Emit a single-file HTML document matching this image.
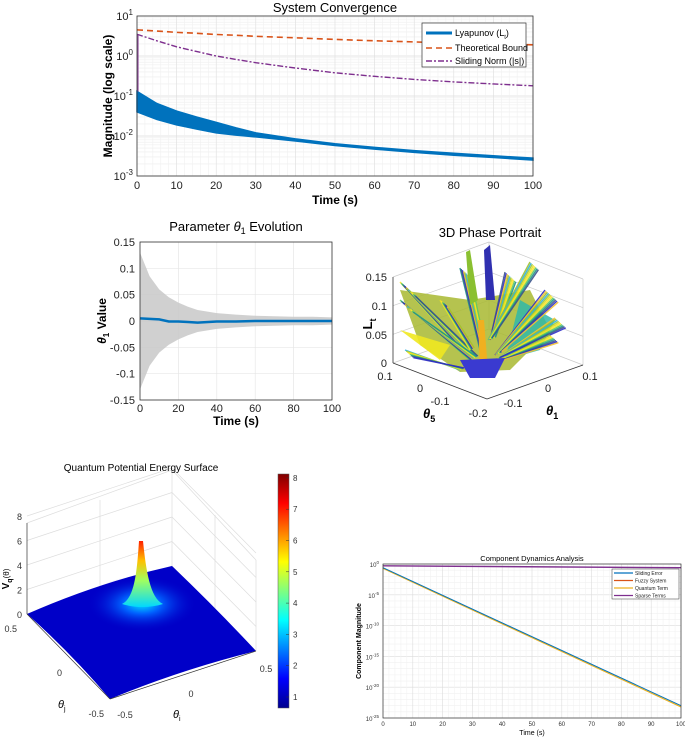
<!DOCTYPE html>
<html><head><meta charset="utf-8"><style>
body{margin:0;background:#fff;}
svg{display:block;font-family:"Liberation Sans",sans-serif;}
</style></head><body>
<svg id="fig" width="685" height="739" viewBox="0 0 685 739">
<defs>
<linearGradient id="jet" x1="0" y1="1" x2="0" y2="0">
<stop offset="0" stop-color="#00008f"/><stop offset="0.125" stop-color="#0000ff"/><stop offset="0.375" stop-color="#00ffff"/><stop offset="0.625" stop-color="#ffff00"/><stop offset="0.875" stop-color="#ff0000"/><stop offset="1" stop-color="#800000"/>
</linearGradient>
<radialGradient id="surfglow" cx="0.5" cy="0.5" r="0.5">
<stop offset="0" stop-color="#00e0ff"/><stop offset="0.35" stop-color="#0060ff"/><stop offset="1" stop-color="#0000c8" stop-opacity="0"/>
</radialGradient>
<linearGradient id="peak" x1="0" y1="1" x2="0" y2="0">
<stop offset="0" stop-color="#00d8ff"/><stop offset="0.4" stop-color="#a0ff60"/><stop offset="0.7" stop-color="#ffc000"/><stop offset="1" stop-color="#ff2000"/>
</linearGradient>
</defs>
<g id="top"></g>
<g id="mid"></g>
<g id="ph"></g>
<g id="qs"></g>
<g id="cd"></g>
</svg>
<script>
// ---- data: System Convergence ----
const convTime = [0,5,10,15,20,25,30,40,50,60,70,80,90,100];
const boundVals = [4.5,4.2,3.9,3.7,3.45,3.3,3.1,2.85,2.6,2.4,2.25,2.1,2.0,1.9];
const slidingVals = [3.5,2.4,1.7,1.3,1.0,0.82,0.68,0.5,0.38,0.31,0.26,0.225,0.2,0.18];
const lyapUpper = [0.13,0.065,0.042,0.03,0.022,0.016,0.012,0.0085,0.0064,0.0052,0.0043,0.0037,0.0032,0.0028];
const lyapLower = [0.04,0.026,0.019,0.015,0.012,0.0105,0.0095,0.0075,0.0058,0.0047,0.0039,0.0033,0.0029,0.0025];
const convYTicks = [1,0,-1,-2,-3];
const convXTicks = [0,10,20,30,40,50,60,70,80,90,100];
// ---- data: theta1 ----
const thTime = [0,5,10,15,20,25,30,40,50,60,70,80,90,100];
const thEnvelope = [0.13,0.085,0.06,0.045,0.035,0.027,0.021,0.015,0.012,0.01,0.009,0.008,0.008,0.007];
const thMean = [0.005,0.004,0.003,-0.001,-0.001,-0.002,-0.003,-0.001,-0.001,0,0,0,0,0];
const thYTicks = [0.15,0.1,0.05,0,-0.05,-0.1,-0.15];
const thXTicks = [0,20,40,60,80,100];
// ---- data: component dynamics (log10) ----
const cdTime = [0,100];
const slidingErr = [-0.6,-23.0];
const quantumTerm = [-0.7,-23.2];
const sparseTerms = [-0.3,-0.6];
const cdYTicks = [0,-5,-10,-15,-20,-25];
const cdXTicks = [0,10,20,30,40,50,60,70,80,90,100];
const cbTicks = [1,2,3,4,5,6,7,8];

const NS="http://www.w3.org/2000/svg";
function el(p,t,a,txt){const e=document.createElementNS(NS,t);for(const k in a)e.setAttribute(k,a[k]);if(txt!==undefined)e.textContent=txt;p.appendChild(e);return e;}

// ===== Top chart =====
(function(){
const g=document.getElementById('top');
const L=137,R=533,T=16,B=176;
const x=v=>L+(R-L)*v/100, y=v=>T+(1-Math.log10(v))*40, yl=e=>T+(1-e)*40;
for(let d=1;d>-3;d--)for(let m=2;m<10;m++){const yy=yl(d-1+Math.log10(m));el(g,'line',{x1:L,x2:R,y1:yy,y2:yy,stroke:'#eee','stroke-width':0.6});}
convYTicks.forEach(e=>{el(g,'line',{x1:L,x2:R,y1:yl(e),y2:yl(e),stroke:'#ddd','stroke-width':0.8});});
for(let v=0;v<=100;v+=2){el(g,'line',{x1:x(v),x2:x(v),y1:T,y2:B,stroke:v%10?'#f0f0f0':'#ddd','stroke-width':0.6});}
let up=convTime.map((t,i)=>x(t)+','+y(lyapUpper[i])).join(' ');
let lo=convTime.map((t,i)=>x(t)+','+y(lyapLower[i])).reverse().join(' ');
const band=el(g,'polygon',{points:up+' '+lo,fill:'#0072bd',stroke:'#0072bd','stroke-width':1.5});

const pb=el(g,'polyline',{points:convTime.map((t,i)=>x(t)+','+y(boundVals[i])).join(' '),fill:'none',stroke:'#d95319','stroke-width':1.6,'stroke-dasharray':'6,4'});

const ps=el(g,'polyline',{points:convTime.map((t,i)=>x(t)+','+y(slidingVals[i])).join(' '),fill:'none',stroke:'#7e2f8e','stroke-width':1.4,'stroke-dasharray':'6,2,2,2'});

el(g,'line',{x1:L+1,x2:L+1,y1:y(slidingVals[0]),y2:y(0.13),stroke:'#7e2f8e','stroke-width':1});
el(g,'rect',{x:L,y:T,width:R-L,height:B-T,fill:'none',stroke:'#333','stroke-width':0.8});
convYTicks.forEach(e=>{const t=el(g,'text',{x:L-4,y:yl(e)+4,'font-size':11,'text-anchor':'end',fill:'#222'},'10');el(t,'tspan',{dy:-5,'font-size':8},String(e));});
convXTicks.forEach(v=>{el(g,'text',{x:x(v),y:B+13,'font-size':11,'text-anchor':'middle',fill:'#222'},String(v));});
el(g,'text',{x:335,y:204,'font-size':12,'font-weight':'bold','text-anchor':'middle'},'Time (s)');
el(g,'text',{x:112,y:96,'font-size':12,'font-weight':'bold','text-anchor':'middle',transform:'rotate(-90 112 96)'},'Magnitude (log scale)');
el(g,'text',{x:335,y:12,'font-size':13,'text-anchor':'middle'},'System Convergence');
const lg=el(g,'g',{});
el(lg,'rect',{x:422,y:23,width:104,height:44,fill:'#fff',stroke:'#333','stroke-width':0.7});
el(lg,'line',{x1:426,x2:452,y1:33,y2:33,stroke:'#0072bd','stroke-width':3});
const t1=el(lg,'text',{x:455,y:36,'font-size':9},'Lyapunov (L');el(t1,'tspan',{dy:3,'font-size':6},'t');el(t1,'tspan',{dy:-3},')');
el(lg,'line',{x1:426,x2:452,y1:48,y2:48,stroke:'#d95319','stroke-width':1.6,'stroke-dasharray':'6,4'});
el(lg,'text',{x:455,y:51,'font-size':9},'Theoretical Bound');
el(lg,'line',{x1:426,x2:452,y1:61,y2:61,stroke:'#7e2f8e','stroke-width':1.4,'stroke-dasharray':'6,2,2,2'});
el(lg,'text',{x:455,y:64,'font-size':9},'Sliding Norm (|s|)');
})();

// ===== theta1 chart =====
(function(){
const g=document.getElementById('mid');
const L=140,R=332,T=242,B=400;
const x=v=>L+(R-L)*v/100, y=v=>T+(0.15-v)/0.3*(B-T);
thXTicks.forEach(v=>el(g,'line',{x1:x(v),x2:x(v),y1:T,y2:B,stroke:'#e6e6e6','stroke-width':0.7}));
thYTicks.forEach(v=>el(g,'line',{x1:L,x2:R,y1:y(v),y2:y(v),stroke:'#e6e6e6','stroke-width':0.7}));
const up=thTime.map((t,i)=>x(t)+','+y(thEnvelope[i])).join(' ');
const lo=thTime.map((t,i)=>x(t)+','+y(-thEnvelope[i])).reverse().join(' ');
const env=el(g,'polygon',{points:up+' '+lo,fill:'#c8c8c8',opacity:0.85});

const m=el(g,'polyline',{points:thTime.map((t,i)=>x(t)+','+y(thMean[i])).join(' '),fill:'none',stroke:'#0072bd','stroke-width':2.5});

el(g,'rect',{x:L,y:T,width:R-L,height:B-T,fill:'none',stroke:'#333','stroke-width':0.8});
thYTicks.forEach(v=>el(g,'text',{x:L-5,y:y(v)+4,'font-size':11,'text-anchor':'end',fill:'#222'},String(v)));
thXTicks.forEach(v=>el(g,'text',{x:x(v),y:B+12,'font-size':11,'text-anchor':'middle',fill:'#222'},String(v)));
el(g,'text',{x:236,y:425,'font-size':12,'font-weight':'bold','text-anchor':'middle'},'Time (s)');
const yl=el(g,'text',{x:106,y:321,'font-size':12,'font-weight':'bold','text-anchor':'middle',transform:'rotate(-90 106 321)'});
el(yl,'tspan',{'font-style':'italic'},'θ');el(yl,'tspan',{dy:3,'font-size':8},'1');el(yl,'tspan',{dy:-3},' Value');
const tt=el(g,'text',{x:236,y:231,'font-size':13,'text-anchor':'middle'},'Parameter ');
el(tt,'tspan',{'font-style':'italic'},'θ');el(tt,'tspan',{dy:3,'font-size':9},'1');el(tt,'tspan',{dy:-3},' Evolution');
})();

// ===== 3D phase portrait =====
(function(){
const g=document.getElementById('ph');
const BL=[393,363],BF=[487,399],BR=[583,365],BB=[489,329];
const TL=[393,277],TB=[489,242],TR=[583,279];
const ln=(a,b,c,w)=>el(g,'line',{x1:a[0],y1:a[1],x2:b[0],y2:b[1],stroke:c||'#ccc','stroke-width':w||0.7});
ln(BL,BB);ln(BB,BR);ln(BB,TB);ln(TL,TB);ln(TB,TR);ln(BR,TR);
for(let i=1;i<3;i++){const f=i/3;ln([BL[0],BL[1]-86*f],[BB[0],BB[1]-86*f]);ln([BB[0],BB[1]-86*f],[BR[0],BR[1]-86*f]);}
el(g,'path',{d:'M400 290 L470 300 L530 290 L550 330 L510 370 L460 372 L420 345 Z',fill:'#a8b830',opacity:0.85});
el(g,'path',{d:'M520 300 L555 320 L540 350 L505 360 Z',fill:'#30b8a8',opacity:0.85});
el(g,'path',{d:'M400 330 L450 345 L440 360 Z',fill:'#f0e820',opacity:0.9});
const cols=['#fde725','#5ec962','#21918c','#3b528b','#2f2fc8','#f4c430','#a0c030','#30b0e0','#9ac83a','#e8e020'];
const fans=[[470,360,400,282,14],[470,360,400,300,12],[480,350,460,268,10],[490,340,505,272,10],[495,355,545,290,12],[495,360,555,318,10],[488,340,530,262,8],[460,370,405,350,8],[490,365,550,335,8],[470,350,440,300,8]];
fans.forEach((f,k)=>{for(let j=0;j<f[4];j++){el(g,'line',{x1:f[0]+j*0.6,y1:f[1]-j*0.3,x2:f[2]+j*1.2,y2:f[3]+j*1.1,stroke:cols[(k+j)%cols.length],'stroke-width':1.4,opacity:0.9});}});
el(g,'path',{d:'M466 252 L470 250 L478 300 L470 305 Z',fill:'#8ac030'});
el(g,'path',{d:'M484 250 L490 245 L495 300 L486 300 Z',fill:'#3030b0'});
el(g,'path',{d:'M478 320 L484 320 L488 370 L480 372 Z',fill:'#f0b020'});
el(g,'path',{d:'M460 360 L505 358 L495 378 L470 378 Z',fill:'#3a3ad0'});
ln(BL,BF,'#333',0.8);ln(BF,BR,'#333',0.8);ln(BL,TL,'#333',0.8);
[['0',363],['0.05',335],['0.1',306],['0.15',277]].forEach(t=>el(g,'text',{x:387,y:t[1]+4,'font-size':11,'text-anchor':'end',fill:'#222'},t[0]));
[['0.1',385,380],['0',420,392],['-0.1',440,405],['-0.2',478,417]].forEach(t=>el(g,'text',{x:t[1],y:t[2],'font-size':11,'text-anchor':'middle',fill:'#222'},t[0]));
[['-0.1',513,407],['0',548,392],['0.1',590,380]].forEach(t=>el(g,'text',{x:t[1],y:t[2],'font-size':11,'text-anchor':'middle',fill:'#222'},t[0]));
const t5=el(g,'text',{x:423,y:418,'font-size':13,'font-weight':'bold','font-style':'italic'},'θ');el(t5,'tspan',{dy:4,'font-size':9,'font-style':'normal'},'5');
const t1=el(g,'text',{x:546,y:415,'font-size':13,'font-weight':'bold','font-style':'italic'},'θ');el(t1,'tspan',{dy:4,'font-size':9,'font-style':'normal'},'1');
const lt=el(g,'text',{x:372,y:324,'font-size':13,'font-weight':'bold','transform':'rotate(-90 372 324)','text-anchor':'middle'},'L');el(lt,'tspan',{dy:4,'font-size':9},'t');
el(g,'text',{x:490,y:237,'font-size':13,'text-anchor':'middle'},'3D Phase Portrait');
})();

// ===== Quantum surface =====
(function(){
const g=document.getElementById('qs');
const ln=(a,b,c,d,col)=>el(g,'line',{x1:a,y1:b,x2:c,y2:d,stroke:col||'#ddd','stroke-width':0.7});
ln(27,523,172,470);ln(172,470,172,566);ln(172,470,256,560);ln(256,560,256,651);
for(let i=0;i<5;i++){const yy=614-i*24.5;ln(27,yy,172,566-i*24.5);ln(172,566-i*24.5,256,651-i*24.5);}
ln(100,500,100,596);ln(215,515,215,610);
el(g,'path',{d:'M27 614 Q100 582 172 566 Q218 610 256 651 Q180 670 110 699 Q70 652 27 614 Z',fill:'#0000c8'});
el(g,'ellipse',{cx:142,cy:604,rx:55,ry:28,fill:'url(#surfglow)'});
const pk=el(g,'path',{d:'M122 604 C135 598 137 570 139 541 L143 541 C146 570 150 598 163 604 C150 608 135 608 122 604 Z',fill:'url(#peak)'});

ln(27,614,27,523,'#333');ln(27,614,110,699,'#333');ln(110,699,256,651,'#333');
[0,2,4,6,8].forEach((v,i)=>el(g,'text',{x:22,y:618-i*24.5,'font-size':9,'text-anchor':'end',fill:'#333'},String(v)));
el(g,'text',{x:17,y:632,'font-size':9,'text-anchor':'end',fill:'#333'},'0.5');
el(g,'text',{x:62,y:676,'font-size':9,'text-anchor':'end',fill:'#333'},'0');
el(g,'text',{x:104,y:717,'font-size':9,'text-anchor':'end',fill:'#333'},'-0.5');
el(g,'text',{x:125,y:718,'font-size':9,'text-anchor':'middle',fill:'#333'},'-0.5');
el(g,'text',{x:191,y:697,'font-size':9,'text-anchor':'middle',fill:'#333'},'0');
el(g,'text',{x:266,y:672,'font-size':9,'text-anchor':'middle',fill:'#333'},'0.5');
const tj=el(g,'text',{x:58,y:708,'font-size':11,'font-style':'italic'},'θ');el(tj,'tspan',{dy:3,'font-size':7,'font-style':'normal'},'j');
const ti=el(g,'text',{x:173,y:718,'font-size':11,'font-style':'italic'},'θ');el(ti,'tspan',{dy:3,'font-size':7,'font-style':'normal'},'i');
const tv=el(g,'text',{x:9,y:579,'font-size':10,'font-weight':'bold','transform':'rotate(-90 9 579)','text-anchor':'middle'},'V');el(tv,'tspan',{dy:3,'font-size':7},'q');el(tv,'tspan',{dy:-3,'font-size':8,'font-weight':'normal'},'(θ)');
el(g,'text',{x:141,y:471,'font-size':10,'text-anchor':'middle'},'Quantum Potential Energy Surface');
const cb=el(g,'rect',{x:278,y:474,width:11,height:234,fill:'url(#jet)',stroke:'#555','stroke-width':0.5});

const cy=v=>697-(v-1)*31.3;
cbTicks.forEach(v=>{el(g,'line',{x1:286,x2:289,y1:cy(v),y2:cy(v),stroke:'#333','stroke-width':0.5});el(g,'text',{x:293,y:cy(v)+3,'font-size':8,fill:'#333'},String(v));});
})();

// ===== Component dynamics =====
(function(){
const g=document.getElementById('cd');
const L=383,R=681,T=564,B=718;
const x=v=>L+(R-L)*v/100, y=e=>T+(0-e)/25*(B-T);
for(let e=0;e>=-25;e--)el(g,'line',{x1:L,x2:R,y1:y(e),y2:y(e),stroke:e%5?'#f0f0f0':'#dcdcdc','stroke-width':0.6});
for(let v=0;v<=100;v+=2)el(g,'line',{x1:x(v),x2:x(v),y1:T,y2:B,stroke:v%10?'#f2f2f2':'#dcdcdc','stroke-width':0.6});
const mk=(arr,c,w,n)=>{const p=el(g,'polyline',{points:cdTime.map((t,i)=>x(t)+','+y(arr[i])).join(' '),fill:'none',stroke:c,'stroke-width':w});};
mk(quantumTerm,'#edb120',1.2,'quantum-term-line');
mk(slidingErr,'#0072bd',1.0,'sliding-error-line');
mk(sparseTerms,'#7e2f8e',1.4,'sparse-terms-line');
el(g,'rect',{x:L,y:T,width:R-L,height:B-T,fill:'none',stroke:'#333','stroke-width':0.7});
cdYTicks.forEach(e=>{const t=el(g,'text',{x:L-4,y:y(e)+3,'font-size':6,'text-anchor':'end',fill:'#333'},'10');el(t,'tspan',{dy:-3,'font-size':4.5},String(e));});
cdXTicks.forEach(v=>el(g,'text',{x:x(v),y:B+8,'font-size':6,'text-anchor':'middle',fill:'#333'},String(v)));
el(g,'text',{x:532,y:735,'font-size':7,'text-anchor':'middle'},'Time (s)');
el(g,'text',{x:361,y:641,'font-size':7,'font-weight':'bold','text-anchor':'middle',transform:'rotate(-90 361 641)'},'Component Magnitude');
el(g,'text',{x:532,y:561,'font-size':7.5,'text-anchor':'middle'},'Component Dynamics Analysis');
const lg=el(g,'g',{});
el(lg,'rect',{x:612,y:569,width:67,height:30,fill:'#fff',stroke:'#333','stroke-width':0.5});
[['Sliding Error','#0072bd'],['Fuzzy System','#d95319'],['Quantum Term','#edb120'],['Sparse Terms','#7e2f8e']].forEach((e,i)=>{
el(lg,'line',{x1:614,x2:633,y1:573+i*7.5,y2:573+i*7.5,stroke:e[1],'stroke-width':1.2});
el(lg,'text',{x:635,y:575+i*7.5,'font-size':5,fill:'#222'},e[0]);});
})();
</script>
</body></html>
